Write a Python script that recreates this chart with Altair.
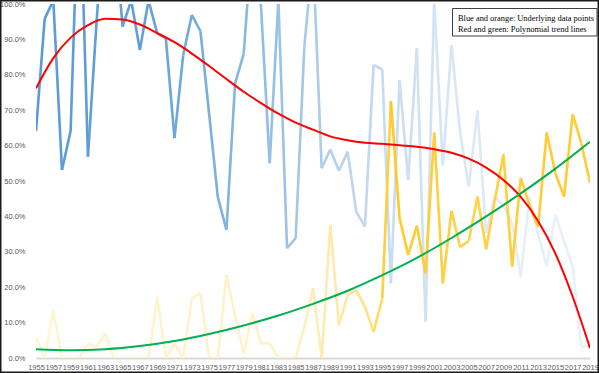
import altair as alt
import pandas as pd
import numpy as np

years = list(range(1955, 2020))

blue_pct = [64.1, 95.8, 101, 53.1, 64.1, 140, 56.9, 95, 130, 123,
            93.6, 101, 87, 101, 91.7, 90.3, 62.1, 85.5, 96.9, 92.3,
            69, 45.5, 36.2, 77.6, 86, 120, 99, 55, 101, 31,
            33.9, 88, 114, 53.6, 58.9, 52.9, 58.3, 41.3, 37.1, 82.8,
            81.5, 21.1, 78.5, 50.3, 87.5, 10.3, 101, 54.5, 88.4, 63.5,
            48.4, 70, 35.3, 45.6, 43, 38, 23, 45.6, 35, 26,
            40.5, 33, 25.8, 3.2, 3.4]

orange_pct = [6, 0, 13.6, 0, 0, 0, 4.1, 3.2, 7, 0,
              0, 0, 0, 0, 17.3, 0, 4.1, 0, 16.8, 18.3,
              0, 0, 23.4, 12, 1.3, 12.6, 4.1, 4.1, 0, 0,
              0, 8.8, 19.7, 0, 37.6, 9.3, 17.8, 19.2, 14.5, 7.4,
              16.8, 72.6, 39.5, 29.1, 37.4, 23.9, 63.7, 21.1, 41.6, 31.3,
              33.1, 45.6, 30.7, 44.6, 57.5, 25.8, 50.9, 43.2, 37.1, 63.7,
              52.1, 45.6, 68.8, 60.6, 49.5]

red_years = [1955, 1957, 1959, 1961, 1963, 1965, 1967, 1969, 1971, 1973,
             1975, 1977, 1979, 1981, 1983, 1985, 1987, 1989, 1991, 1993,
             1995, 1997, 1999, 2001, 2003, 2005, 2007, 2009, 2011, 2013,
             2015, 2017, 2019]
red_pct = [76.2, 84.7, 90.5, 94.0, 95.8, 95.6, 94.2, 91.8, 89.2, 86.0,
           82.5, 78.8, 75.2, 72.0, 69.0, 66.5, 64.5, 62.6, 61.5, 60.8,
           60.5, 60.1, 59.7, 59.0, 58.0, 56.3, 53.8, 50.3, 45.5, 38.7,
           29.5, 17.3, 2.8]

green_years = [1955, 1959, 1963, 1967, 1971, 1975, 1979, 1983, 1987, 1991,
               1995, 1999, 2003, 2007, 2011, 2015, 2019]
green_pct = [2.5, 2.2, 2.5, 3.4, 4.8, 6.8, 9.2, 12.0, 15.3, 19.0,
             23.4, 28.3, 33.9, 40.0, 46.5, 53.5, 61.1]

legend_lines = ["Blue and orange: Underlying data points",
                "Red and green: Polynomial trend lines"]


def mix(hex_color, t):
    h = hex_color.lstrip("#")
    rgb = [int(h[i:i + 2], 16) for i in (0, 2, 4)]
    out = [round(255 - (255 - c) * t) for c in rgb]
    return "#{:02x}{:02x}{:02x}".format(*out)


def segments(vals, base, knots_x, knots_t, name):
    rows = []
    for i in range(len(years) - 1):
        mid = (years[i] + years[i + 1]) / 2
        t = float(np.interp(mid, knots_x, knots_t))
        col = mix(base, t)
        for j in (i, i + 1):
            rows.append({"year": years[j], "v": vals[j] / 100.0,
                         "seg": f"{name}{i:02d}", "col": col})
    return rows


seg_rows = segments(blue_pct, "#5b9bd5", [1955, 1968, 1980, 1991, 2003, 2012, 2019],
                    [1.0, 0.95, 0.7, 0.42, 0.24, 0.16, 0.14], "b")
seg_rows += segments(orange_pct, "#ffc000", [1955, 1985, 1990, 1994, 1996, 2005, 2012, 2019],
                     [0.17, 0.22, 0.35, 0.5, 0.85, 0.7, 0.8, 0.8], "o")
seg_df = pd.DataFrame(seg_rows)

red_df = pd.DataFrame({"year": red_years, "v": [v / 100.0 for v in red_pct]})
green_df = pd.DataFrame({"year": green_years, "v": [v / 100.0 for v in green_pct]})

W, H = 554, 354
x_scale = alt.Scale(domain=[1955, 2019], nice=False, zero=False)
y_scale = alt.Scale(domain=[0, 1], nice=False)

x_axis = alt.Axis(values=list(range(1955, 2020, 2)), format="d", title=None,
                  grid=False, ticks=False, labelFont="Liberation Sans",
                  labelFontSize=7.5, labelColor="#595959", labelPadding=5,
                  labelOverlap=False, domainColor="#d9d9d9", domainWidth=2,
                  labelFlush=False)
y_axis = alt.Axis(values=[i / 10 for i in range(11)], format=".1%", title=None,
                  grid=False, ticks=False, domain=False, labelFont="Liberation Sans",
                  labelFontSize=7.5, labelColor="#595959", labelPadding=11,
                  labelOverlap=False)

X = alt.X("year:Q", scale=x_scale, axis=x_axis)
Y = alt.Y("v:Q", scale=y_scale, axis=y_axis)

data_lines = alt.Chart(seg_df).mark_line(strokeWidth=2.6, clip=True, strokeCap="butt",
                                          strokeJoin="round").encode(
    x=X, y=Y,
    detail="seg:N",
    color=alt.Color("col:N", scale=None),
)

red_line = alt.Chart(red_df).mark_line(
    color="#ff0000", strokeWidth=2.0, interpolate="monotone", clip=True).encode(x=X, y=Y)

green_line = alt.Chart(green_df).mark_line(
    color="#00b050", strokeWidth=2.0, interpolate="monotone", clip=True).encode(x=X, y=Y)

one = pd.DataFrame({"k": [0]})
legend_box = alt.Chart(one).mark_rect(
    fill="white", stroke="#404040", strokeWidth=1).encode(
    x=alt.value(416.5), x2=alt.value(561), y=alt.value(4.5), y2=alt.value(32))

legend_t1 = alt.Chart(pd.DataFrame({"t": [legend_lines[0]]})).mark_text(
    font="Liberation Serif", fontSize=8.4, color="black", align="left",
    baseline="middle").encode(x=alt.value(422), y=alt.value(14), text="t:N")
legend_t2 = alt.Chart(pd.DataFrame({"t": [legend_lines[1]]})).mark_text(
    font="Liberation Serif", fontSize=8.4, color="black", align="left",
    baseline="middle").encode(x=alt.value(422), y=alt.value(24.5), text="t:N")

frame = alt.Chart(one).mark_rect(
    fill=None, stroke="#1a1a1a", strokeWidth=1.5).encode(
    x=alt.value(-35.25), x2=alt.value(562.25), y=alt.value(-3.25), y2=alt.value(368.25))

chart = alt.layer(data_lines, red_line, green_line, legend_box, legend_t1, legend_t2,
                  frame).properties(
    width=W, height=H,
    autosize=alt.AutoSizeParams(type="none"),
    padding={"left": 36, "top": 4, "right": 9, "bottom": 15},
    background="white",
).configure_view(stroke=None)

chart.save("out.html", embed_options={"renderer": "svg", "actions": False})
